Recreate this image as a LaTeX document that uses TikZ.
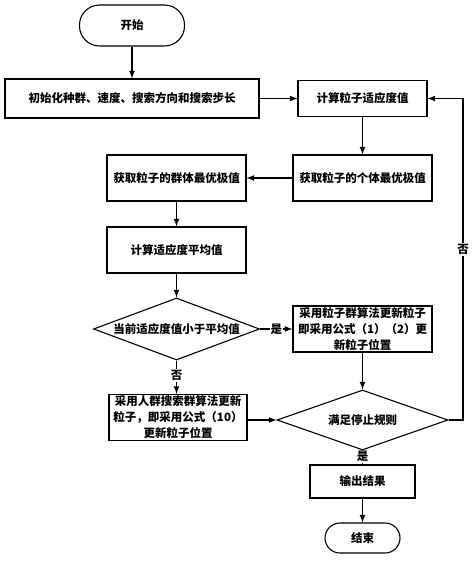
\documentclass[tikz,border=0pt]{standalone}
\usepackage{fontspec}
\setmainfont{Noto Sans CJK SC}
\usetikzlibrary{arrows,shapes.geometric}

\begin{document}
\begin{tikzpicture}[x=1pt,y=-1pt,font=\fontsize{11.5}{16}\selectfont\bfseries]
	\tikzstyle{terminal}=[draw,line width=1.1pt,inner sep=0pt]
	\tikzstyle{process}=[draw,line width=1.1pt,inner sep=0pt,align=center]
	\tikzstyle{decision}=[draw,diamond,line width=1.1pt,inner sep=0pt]
	\tikzstyle{flow}=[-latex,line width=1.6pt]
	\tikzstyle{tag}=[fill=white,inner sep=1pt]
	\useasboundingbox (0,0) rectangle (474,561);
	\node[terminal,rounded corners=20pt,minimum width=105pt,minimum height=41pt] (start) at (132,25.5) {开始};
	\node[process,minimum width=254pt,minimum height=39pt] (init) at (132,98.5) {初始化种群、速度、搜索方向和搜索步长};
	\node[process,minimum width=129pt,minimum height=36pt] (calc) at (362.5,98.5) {计算粒子适应度值};
	\node[process,minimum width=139pt,minimum height=46pt] (pbest) at (362.5,178) {获取粒子的个体最优极值};
	\node[process,minimum width=139pt,minimum height=46pt] (gbest) at (176.5,178) {获取粒子的群体最优极值};
	\node[process,minimum width=139pt,minimum height=46pt] (avg) at (176.5,250) {计算适应度平均值};
	\node[decision,aspect=2.68,minimum width=166pt,minimum height=62pt] (judge) at (176.5,329) {当前适应度值小于平均值};
	\node[process,minimum width=139pt,minimum height=46pt] (pso) at (362.5,329) {采用粒子群算法更新粒子\\即采用公式（1）（2）更\\新粒子位置};
	\node[process,minimum width=138pt,minimum height=46pt] (hso) at (178,417.5) {采用人群搜索群算法更新\\粒子，即采用公式（10）\\更新粒子位置};
	\node[decision,aspect=2.85,minimum width=171pt,minimum height=60pt] (stop) at (362.5,420) {满足停止规则};
	\node[process,minimum width=105pt,minimum height=33pt] (out) at (362.5,481.5) {输出结果};
	\node[terminal,rounded corners=15pt,minimum width=75pt,minimum height=30pt] (end) at (362.5,538) {结束};
	\coordinate (loop) at (463,420);

	\draw[flow] (start) -- (init);
	\draw[flow] (init) -- (calc);
	\draw[flow] (calc) -- (pbest);
	\draw[flow] (pbest) -- (gbest);
	\draw[flow] (gbest) -- (avg);
	\draw[flow] (avg) -- (judge);
	\draw[flow] (judge) -- node[tag]{是} (pso);
	\draw[flow] (judge.south) -- node[tag,pos=0.45]{否} (hso.north -| judge.south);
	\draw[flow] (hso.east |- stop) -- (stop.west);
	\draw[flow] (pso) -- (stop);
	\draw[flow] (stop.east) -- (loop) -- node[tag,pos=0.53]{否} (loop |- calc) -- (calc.east);
	\draw[flow] (stop.south) -- node[tag,pos=0.45]{是} (out);
	\draw[flow] (out) -- (end);
\end{tikzpicture}
\end{document}
